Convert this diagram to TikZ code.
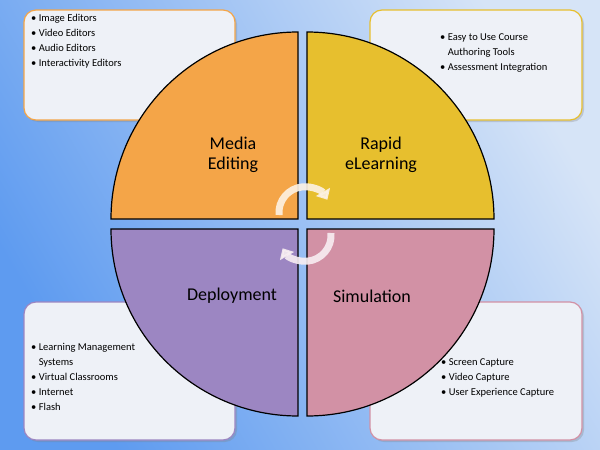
\documentclass[tikz,border=0pt]{standalone}
\usepackage{fontspec}
\setmainfont{Carlito}
\usetikzlibrary{arrows.meta,shadows}
\definecolor{cO}{HTML}{F4A548}
\definecolor{cY}{HTML}{E7BF2E}
\definecolor{cP}{HTML}{9C86C2}
\definecolor{cK}{HTML}{D291A5}
\definecolor{bg1}{HTML}{5E9BF0}
\definecolor{bg2}{HTML}{D6E4F7}
\definecolor{boxf}{HTML}{EEF1F7}
\begin{document}
\begin{tikzpicture}[x=1pt,y=-1pt,
 box/.style={draw=#1,line width=1.2pt,fill=boxf,rounded corners=12pt,drop shadow={shadow xshift=2pt,shadow yshift=-2pt,opacity=0.3}},
 quad/.style={draw=black,line width=1.2pt,fill=#1},
 lab/.style={font=\fontsize{18}{20}\selectfont,align=center},
 txt/.style={font=\fontsize{10.5}{15}\selectfont,align=left,anchor=north west,inner sep=0pt},
 arr/.style={line width=7pt,-{Triangle[length=9pt,width=16pt]}}]
\shade[left color=bg1,right color=bg2,shading angle=120] (0,0) rectangle (600,450);
\useasboundingbox (0,0) rectangle (600,450);
\draw[box=cO] (24,10) rectangle (235,120);
\draw[box=cY] (370,10) rectangle (582,120);
\draw[box=cP] (24,302) rectangle (235,440);
\draw[box=cK] (370,302) rectangle (582,440);
\node[txt] (t1) at (31,14) {• Image Editors\\• Video Editors\\• Audio Editors\\• Interactivity Editors};
\node[txt] (t2) at (440,33) {• Easy to Use Course\\\phantom{• }Authoring Tools\\• Assessment Integration};
\node[txt] (t3) at (31,343) {• Learning Management\\\phantom{• }Systems\\• Virtual Classrooms\\• Internet\\• Flash};
\node[txt] (t4) at (441,358) {• Screen Capture\\• Video Capture\\• User Experience Capture};
\draw[quad=cO] (298,219) -- (111,219) arc[start angle=180,end angle=270,radius=187] -- cycle;
\draw[quad=cY] (307,219) -- (307,32) arc[start angle=270,end angle=360,radius=187] -- cycle;
\draw[quad=cP] (298,229) -- (298,416) arc[start angle=90,end angle=180,radius=187] -- cycle;
\draw[quad=cK] (307,229) -- (494,229) arc[start angle=0,end angle=90,radius=187] -- cycle;
\node[lab] (a) at (233,155) {Media\\Editing};
\node[lab] (b) at (381,155) {Rapid\\eLearning};
\node[lab] (c) at (232,296) {Deployment};
\node[lab] (d) at (372,296) {Simulation};
\begin{scope}[opacity=0.9]
\draw[arr,draw=white!85!cO] (279,215) arc[start angle=175,end angle=330,radius=26];
\draw[arr,draw=white!85!cK] (331,233) arc[start angle=-5,end angle=150,radius=26];
\end{scope}
\end{tikzpicture}
\end{document}
